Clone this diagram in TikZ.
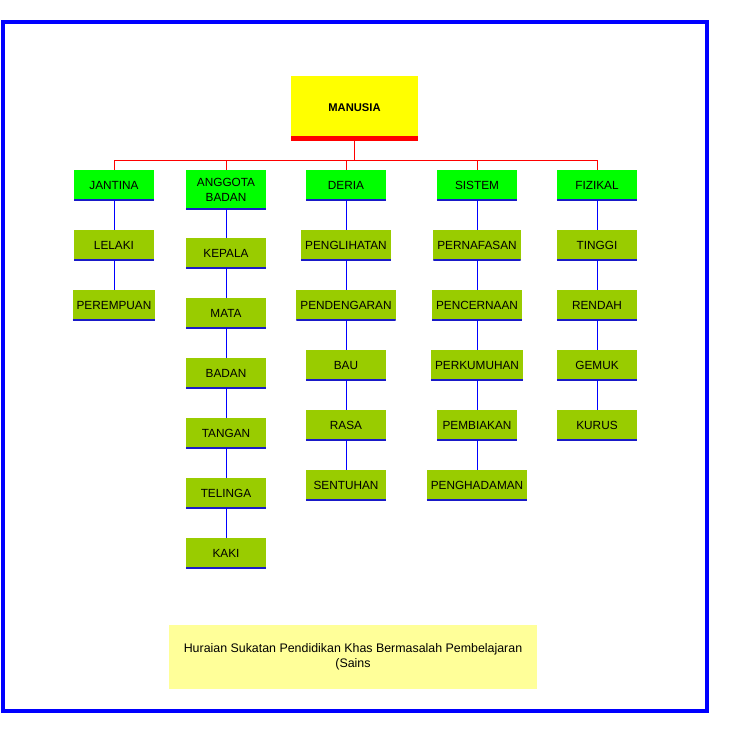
\documentclass[tikz,border=0pt]{standalone}
\usepackage{fontspec}
\setmainfont{Liberation Sans}
\definecolor{kuning}{HTML}{FFFF00}
\definecolor{kuningmuda}{HTML}{FFFF99}
\definecolor{hijau}{HTML}{00FF00}
\definecolor{zaitun}{HTML}{99CC00}
\definecolor{biru}{HTML}{0000FF}
\definecolor{birugelap}{HTML}{1A1AC8}
\definecolor{merah}{HTML}{FF0000}

\tikzset{
  kotak/.style={rectangle, inner sep=4pt, minimum width=80pt, minimum height=30pt,
    font=\fontsize{11.8}{15}\selectfont, align=center,
    path picture={\draw[birugelap, line width=3pt]
      (path picture bounding box.south west) -- (path picture bounding box.south east);}},
  kategori/.style={kotak, fill=hijau},
  butiran/.style={kotak, fill=zaitun},
  garisbiru/.style={biru, line width=1pt},
  garismerah/.style={merah, line width=1pt},
}

\begin{document}
\begin{tikzpicture}[x=1pt,y=-1pt]
    \useasboundingbox (0,0) rectangle (729,733);
    % Bingkai
    \draw[biru, line width=4pt] (3,22) rectangle (707,711);

    % Tajuk
    \node[rectangle, fill=kuning, minimum width=127pt, minimum height=64pt,
      font=\fontsize{11.2}{13}\selectfont\bfseries,
      path picture={\draw[merah, line width=8pt]
        (path picture bounding box.south west) -- (path picture bounding box.south east);}]
      (manusia) at (354.5,108) {MANUSIA};
    \coordinate (bus) at (354.5,160);

    % Kategori
    \node[kategori] (jantina) at (114,185) {JANTINA};
    \node[kategori, minimum height=39pt] (anggota) at (226,189.5) {ANGGOTA\\BADAN};
    \node[kategori] (deria) at (346,185) {DERIA};
    \node[kategori] (sistem) at (477,185) {SISTEM};
    \node[kategori] (fizikal) at (597,185) {FIZIKAL};

    % Jantina
    \node[butiran] (lelaki) at (114,245) {LELAKI};
    \node[butiran] (perempuan) at (114,305) {PEREMPUAN};

    % Anggota badan
    \node[butiran] (kepala) at (226,253) {KEPALA};
    \node[butiran] (mata) at (226,313) {MATA};
    \node[butiran] (badan) at (226,373) {BADAN};
    \node[butiran] (tangan) at (226,433) {TANGAN};
    \node[butiran] (telinga) at (226,493) {TELINGA};
    \node[butiran] (kaki) at (226,553) {KAKI};

    % Deria
    \node[butiran] (penglihatan) at (346,245) {PENGLIHATAN};
    \node[butiran] (pendengaran) at (346,305) {PENDENGARAN};
    \node[butiran] (bau) at (346,365) {BAU};
    \node[butiran] (rasa) at (346,425) {RASA};
    \node[butiran] (sentuhan) at (346,485) {SENTUHAN};

    % Sistem
    \node[butiran] (pernafasan) at (477,245) {PERNAFASAN};
    \node[butiran] (pencernaan) at (477,305) {PENCERNAAN};
    \node[butiran] (perkumuhan) at (477,365) {PERKUMUHAN};
    \node[butiran] (pembiakan) at (477,425) {PEMBIAKAN};
    \node[butiran] (penghadaman) at (477,485) {PENGHADAMAN};

    % Fizikal
    \node[butiran] (tinggi) at (597,245) {TINGGI};
    \node[butiran] (rendah) at (597,305) {RENDAH};
    \node[butiran] (gemuk) at (597,365) {GEMUK};
    \node[butiran] (kurus) at (597,425) {KURUS};

    % Nota
    \node[rectangle, fill=kuningmuda, minimum width=368pt, minimum height=64pt,
      align=center, font=\fontsize{12.4}{14.5}\selectfont]
      (nota) at (353,657) {Huraian Sukatan Pendidikan Khas Bermasalah Pembelajaran\\(Sains};

    % Garis merah
    \draw[garismerah] (manusia.south) -- (bus);
    \draw[garismerah] (bus) -| (jantina.north);
    \draw[garismerah] (bus) -| (anggota.north);
    \draw[garismerah] (bus) -| (deria.north);
    \draw[garismerah] (bus) -| (sistem.north);
    \draw[garismerah] (bus) -| (fizikal.north);

    % Garis biru
    \draw[garisbiru] (jantina.south) -- (lelaki.north);
    \draw[garisbiru] (lelaki.south) -- (perempuan.north);
    \draw[garisbiru] (anggota.south) -- (kepala.north);
    \draw[garisbiru] (kepala.south) -- (mata.north);
    \draw[garisbiru] (mata.south) -- (badan.north);
    \draw[garisbiru] (badan.south) -- (tangan.north);
    \draw[garisbiru] (tangan.south) -- (telinga.north);
    \draw[garisbiru] (telinga.south) -- (kaki.north);
    \draw[garisbiru] (deria.south) -- (penglihatan.north);
    \draw[garisbiru] (penglihatan.south) -- (pendengaran.north);
    \draw[garisbiru] (pendengaran.south) -- (bau.north);
    \draw[garisbiru] (bau.south) -- (rasa.north);
    \draw[garisbiru] (rasa.south) -- (sentuhan.north);
    \draw[garisbiru] (sistem.south) -- (pernafasan.north);
    \draw[garisbiru] (pernafasan.south) -- (pencernaan.north);
    \draw[garisbiru] (pencernaan.south) -- (perkumuhan.north);
    \draw[garisbiru] (perkumuhan.south) -- (pembiakan.north);
    \draw[garisbiru] (pembiakan.south) -- (penghadaman.north);
    \draw[garisbiru] (fizikal.south) -- (tinggi.north);
    \draw[garisbiru] (tinggi.south) -- (rendah.north);
    \draw[garisbiru] (rendah.south) -- (gemuk.north);
    \draw[garisbiru] (gemuk.south) -- (kurus.north);
\end{tikzpicture}
\end{document}
